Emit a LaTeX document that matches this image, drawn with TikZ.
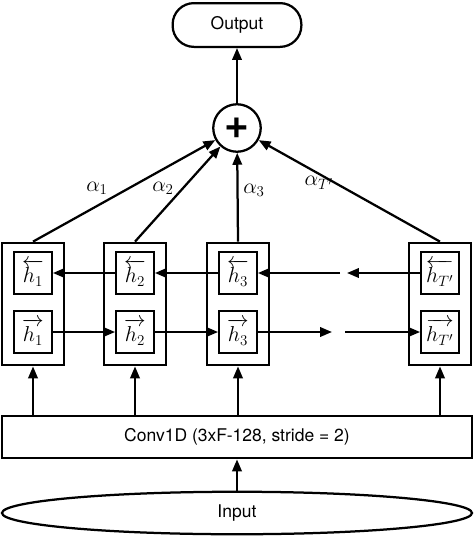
\documentclass[tikz,border=0pt]{standalone}
\usepackage{amsmath}
\usepackage{fontspec}
\setsansfont{TeX Gyre Heros}
\usetikzlibrary{arrows.meta,shapes.geometric}
\def\cellnode{\node[draw,minimum width=50pt,minimum height=98pt]}
\def\hnode{\node[draw,minimum width=30pt,minimum height=34pt,inner sep=0pt,mathtext]}
\def\drawarr{\draw[-{Triangle[length=9.5pt,width=7.5pt]}]}

\begin{document}
\begin{tikzpicture}[x=0.8pt,y=-0.8pt,line width=1.8pt,
  sanstext/.style={font=\sffamily\fontsize{14}{17}\selectfont},
  mathtext/.style={font=\LARGE},
  plustext/.style={font=\sffamily\bfseries\fontsize{34}{36}\selectfont}]
\useasboundingbox (0,0) rectangle (474,536);
\node[draw,rounded corners=17pt,minimum width=103pt,minimum height=35pt,sanstext] (out) at (237,25) {Output};
\node[draw,circle,minimum size=38pt,inner sep=0pt,plustext] (sum) at (237,128) {+};
\cellnode (c1) at (33,304) {};
\cellnode (c2) at (135,304) {};
\cellnode (c3) at (238,304) {};
\cellnode (c4) at (440,304) {};
\hnode (b1) at (33,273) {$\overleftarrow{h_1}$};
\hnode (f1) at (33,332) {$\overrightarrow{h_1}$};
\hnode (b2) at (135,273) {$\overleftarrow{h_2}$};
\hnode (f2) at (135,332) {$\overrightarrow{h_2}$};
\hnode (b3) at (238,273) {$\overleftarrow{h_3}$};
\hnode (f3) at (238,332) {$\overrightarrow{h_3}$};
\hnode (b4) at (440,273) {$\overleftarrow{h_{T'}}$};
\hnode (f4) at (440,332) {$\overrightarrow{h_{T'}}$};
\node[draw,minimum width=376pt,minimum height=34pt,sanstext] (conv) at (237,437) {Conv1D (3xF-128, stride = 2)};
\node[draw,ellipse,minimum width=376pt,minimum height=34pt,inner sep=0pt,sanstext] (input) at (237,513) {Input};
\node[mathtext] (a1) at (97,188) {$\alpha_1$};
\node[mathtext] (a2) at (163,188) {$\alpha_2$};
\node[mathtext] (a3) at (254,190) {$\alpha_3$};
\node[mathtext] (a4) at (319,183) {$\alpha_{T'}$};
\coordinate (gb1) at (340,273);
\coordinate (gb2) at (347,273);
\coordinate (gf1) at (332,332);
\coordinate (gf2) at (345,332);
\drawarr (input) -- (conv);
\drawarr (conv.north -| c1) -- (c1);
\drawarr (conv.north -| c2) -- (c2);
\drawarr (conv.north -| c3) -- (c3);
\drawarr (conv.north -| c4) -- (c4);
\drawarr (b2) -- (b1);
\drawarr (b3) -- (b2);
\drawarr (gb1) -- (b3);
\drawarr (b4) -- (gb2);
\drawarr (f1) -- (f2);
\drawarr (f2) -- (f3);
\drawarr (f3) -- (gf1);
\drawarr (gf2) -- (f4);
\drawarr (c1.north) -- (sum);
\drawarr (c2.north) -- (sum);
\drawarr (c3.north) -- (sum);
\drawarr (c4.north) -- (sum);
\drawarr (sum) -- (out);
\end{tikzpicture}
\end{document}
